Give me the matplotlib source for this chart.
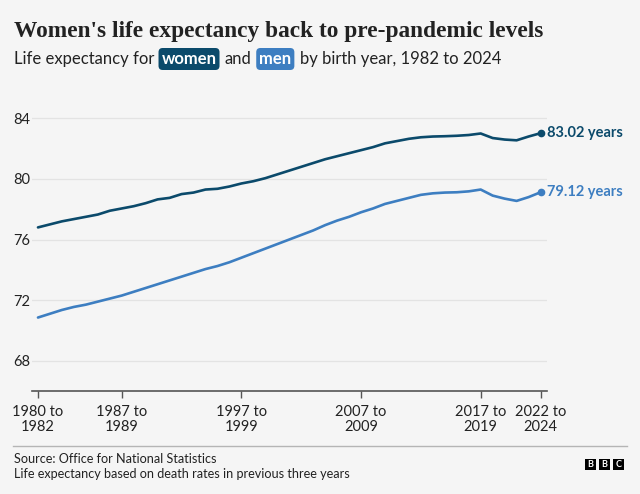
import matplotlib.pyplot as plt
from matplotlib.lines import Line2D
from matplotlib.patches import Rectangle

# Datos (esperanza de vida al nacer, periodos de tres años)

years = list(range(1982, 2025))
women = [76.80, 77.00, 77.20, 77.35, 77.50, 77.65, 77.90, 78.05, 78.20, 78.40,
         78.65, 78.75, 79.00, 79.10, 79.30, 79.35, 79.50, 79.70, 79.85, 80.05,
         80.30, 80.55, 80.80, 81.05, 81.30, 81.50, 81.70, 81.90, 82.10, 82.35,
         82.50, 82.65, 82.75, 82.80, 82.82, 82.85, 82.90, 83.00, 82.70, 82.60,
         82.55, 82.80, 83.02]
men = [70.85, 71.10, 71.35, 71.55, 71.70, 71.90, 72.10, 72.30, 72.55, 72.80,
       73.05, 73.30, 73.55, 73.80, 74.05, 74.25, 74.50, 74.80, 75.10, 75.40,
       75.70, 76.00, 76.30, 76.60, 76.95, 77.25, 77.50, 77.80, 78.05, 78.35,
       78.55, 78.75, 78.95, 79.05, 79.10, 79.12, 79.18, 79.30, 78.90, 78.70,
       78.55, 78.80, 79.12]

tick_years = [1982, 1989, 1999, 2009, 2019, 2024]
tick_labels = ["1980 to\n1982", "1987 to\n1989", "1997 to\n1999",
               "2007 to\n2009", "2017 to\n2019", "2022 to\n2024"]
y_ticks = [68, 72, 76, 80, 84]

bg = "#f5f5f5"
dark = "#0b4a6b"
light = "#3d7ec1"
txt = "#222222"

plt.rcParams['font.family'] = ['Lato', 'DejaVu Sans']

W, H = 640, 494
fig = plt.figure(figsize=(W / 100, H / 100), dpi=100, facecolor=bg)

def fx(px):
    return px / W

def fy(py):
    return 1 - py / H

ax = fig.add_axes([fx(32), fy(391), fx(547) - fx(32), fy(103.2) - fy(391)])
ax.set_facecolor(bg)

ax.plot(years, women, color=dark, lw=1.9, solid_capstyle='round', zorder=3)
ax.plot(years, men, color=light, lw=1.9, solid_capstyle='round', zorder=3)
ax.plot(years[-1], women[-1], 'o', color=dark, ms=4.5, zorder=4)
ax.plot(years[-1], men[-1], 'o', color=light, ms=4.5, zorder=4)

ax.annotate(f"{women[-1]:.2f} years", xy=(years[-1], women[-1]), xytext=(5, 0),
            textcoords='offset points', va='center', ha='left',
            fontsize=10.5, fontweight='bold', color=dark)
ax.annotate(f"{men[-1]:.2f} years", xy=(years[-1], men[-1]), xytext=(5, 0),
            textcoords='offset points', va='center', ha='left',
            fontsize=10.5, fontweight='bold', color=light)

ax.set_xlim(1981.5, 2024.54)
ax.set_ylim(66, 85)

ax.set_yticks(y_ticks)
ax.set_yticklabels([str(v) for v in y_ticks])
ax.tick_params(axis='y', length=0, pad=13.7, labelsize=10.5, labelcolor=txt)
for lbl in ax.get_yticklabels():
    lbl.set_horizontalalignment('left')
ax.yaxis.grid(True, color="#e3e3e3", lw=0.9)
ax.set_axisbelow(True)

ax.set_xticks(tick_years)
ax.set_xticklabels(tick_labels)
ax.tick_params(axis='x', length=5, width=1, color="#555555", pad=5,
               labelsize=10.5, labelcolor=txt)
for lbl in ax.get_xticklabels():
    lbl.set_linespacing(1.08)

for s in ['top', 'right', 'left']:
    ax.spines[s].set_visible(False)
ax.spines['bottom'].set_color("#555555")
ax.spines['bottom'].set_linewidth(1.2)

# Titulo y subtitulo

fig.text(fx(13.5), fy(36.7), "Women's life expectancy back to pre-pandemic levels",
         va='baseline', ha='left', fontsize=16.8, fontweight='bold',
         family='Liberation Serif', color=txt)

box = dict(boxstyle='round,pad=0.18,rounding_size=0.25', ec='none')
t1 = fig.text(fx(13.5), fy(64), "Life expectancy for", va='baseline', ha='left',
              fontsize=12, color=txt)
t2 = plt.annotate("women", xy=(1, 0), xycoords=t1, xytext=(5.5, 0),
                  textcoords='offset points', va='bottom', ha='left',
                  fontsize=12, fontweight='bold', color='white',
                  bbox=dict(box, fc=dark))
t3 = plt.annotate("and", xy=(1, 0), xycoords=t2, xytext=(5.5, 0),
                  textcoords='offset points', va='bottom', ha='left',
                  fontsize=12, color=txt)
t4 = plt.annotate("men", xy=(1, 0), xycoords=t3, xytext=(6, 0),
                  textcoords='offset points', va='bottom', ha='left',
                  fontsize=12, fontweight='bold', color='white',
                  bbox=dict(box, fc=light))
t5 = plt.annotate("by birth year, 1982 to 2024", xy=(1, 0), xycoords=t4, xytext=(6.5, 0),
                  textcoords='offset points', va='bottom', ha='left',
                  fontsize=12, color=txt)

# Pie de grafico

fig.add_artist(Line2D([fx(13), fx(627)], [fy(445.7), fy(445.7)], color="#b5b5b5", lw=1))
fig.text(fx(13.5), fy(459), "Source: Office for National Statistics",
         va='center', ha='left', fontsize=9.1, color=txt)
fig.text(fx(13.5), fy(474), "Life expectancy based on death rates in previous three years",
         va='center', ha='left', fontsize=9.1, color=txt)

for i, letter in enumerate("BBC"):
    x0 = 585 + i * 14
    fig.add_artist(Rectangle((fx(x0), fy(470)), fx(11), 11 / H,
                             transform=fig.transFigure, fc='black', ec='none'))
    fig.text(fx(x0 + 5.5), fy(464.5), letter, va='center', ha='center',
             fontsize=6.5, fontweight='bold', color='white')

fig.savefig("out.png", dpi=100, facecolor=bg)
